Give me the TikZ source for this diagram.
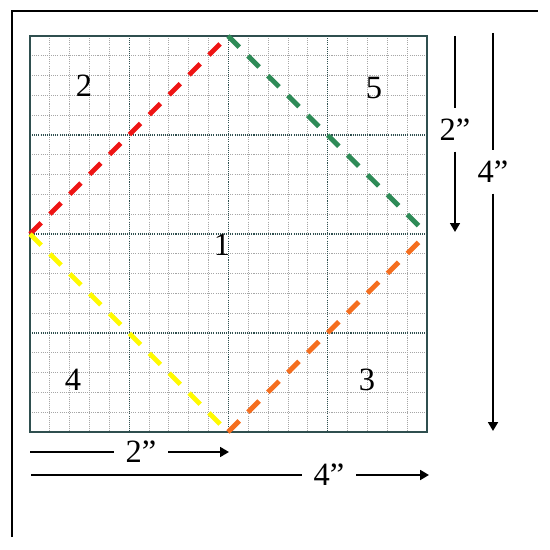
\documentclass[tikz,border=0pt]{standalone}
\usepackage{fontspec}
\setmainfont{Liberation Serif}
\usetikzlibrary{arrows.meta}
\definecolor{gridline}{RGB}{47,79,79}
\definecolor{cutred}{RGB}{238,20,20}
\definecolor{cutgreen}{RGB}{46,139,87}
\definecolor{cutyellow}{RGB}{255,250,0}
\definecolor{cutorange}{RGB}{245,110,30}
\begin{document}
\begin{tikzpicture}[x=0.02cm,y=-0.02cm,
    minor/.style={gray!70,line width=0.55pt,dash pattern=on 0.6pt off 0.6pt},
    major/.style={gridline,line width=0.6pt,dash pattern=on 0.6pt off 0.6pt},
    cut/.style={line width=2.8pt,dash pattern=on 9pt off 7pt},
    num/.style={font=\fontsize{18.5}{21}\selectfont,inner sep=0pt},
    dim/.style={font=\fontsize{18.5}{21}\selectfont,inner xsep=6.5pt,inner ysep=6pt},
    meas/.style={line width=1.1pt},
    measend/.style={meas,-{Triangle[length=5pt,width=5.5pt]}}]
  \useasboundingbox (0,0) rectangle (550,550);
  % frame
  \draw[line width=0.8pt] (12,537) -- (12,11) -- (538,11);
  % grid paper
  \foreach \i in {1,...,19} {
    \draw[minor] ({30+\i*19.85},36) -- ({30+\i*19.85},432);
    \draw[minor] (30,{36+\i*19.8}) -- (427,{36+\i*19.8});
  }
  \foreach \i in {5,10,15} {
    \draw[major] ({30+\i*19.85},36) -- ({30+\i*19.85},432);
    \draw[major] (30,{36+\i*19.8}) -- (427,{36+\i*19.8});
  }
  \draw[gridline,line width=0.8pt] (30,36) rectangle (427,432);
  % diamond corners
  \coordinate (top) at (228,36);
  \coordinate (right) at (427,234);
  \coordinate (bottom) at (228,432);
  \coordinate (left) at (30,234);
  \draw[cut,cutred] (left) -- (top);
  \draw[cut,cutgreen] (top) -- (right);
  \draw[cut,cutyellow] (left) -- (bottom);
  \draw[cut,cutorange] (bottom) -- (right);
  % piece numbers
  \node[num] (p1) at (222,245) {1};
  \node[num] (p2) at (84,86) {2};
  \node[num] (p3) at (367,380) {3};
  \node[num] (p4) at (73,380) {4};
  \node[num] (p5) at (374,88) {5};
  % measures
  \coordinate (v2a) at (455,36);
  \node[dim] (v2) at (455,130) {2''};
  \coordinate (v2b) at (455,232);
  \draw[meas] (v2a) -- (v2);
  \draw[measend] (v2) -- (v2b);
  \coordinate (v4a) at (493,33);
  \node[dim] (v4) at (493,172) {4''};
  \coordinate (v4b) at (493,431);
  \draw[meas,line width=1.5pt] (v4a) -- (v4);
  \draw[measend,line width=1.5pt] (v4) -- (v4b);
  \coordinate (h2a) at (30,452);
  \node[dim] (h2) at (141,452) {2''};
  \coordinate (h2b) at (229,452);
  \draw[meas] (h2a) -- (h2);
  \draw[measend] (h2) -- (h2b);
  \coordinate (h4a) at (31,475);
  \node[dim] (h4) at (329,475) {4''};
  \coordinate (h4b) at (429,475);
  \draw[meas,line width=1.5pt] (h4a) -- (h4);
  \draw[measend,line width=1.5pt] (h4) -- (h4b);
\end{tikzpicture}
\end{document}
